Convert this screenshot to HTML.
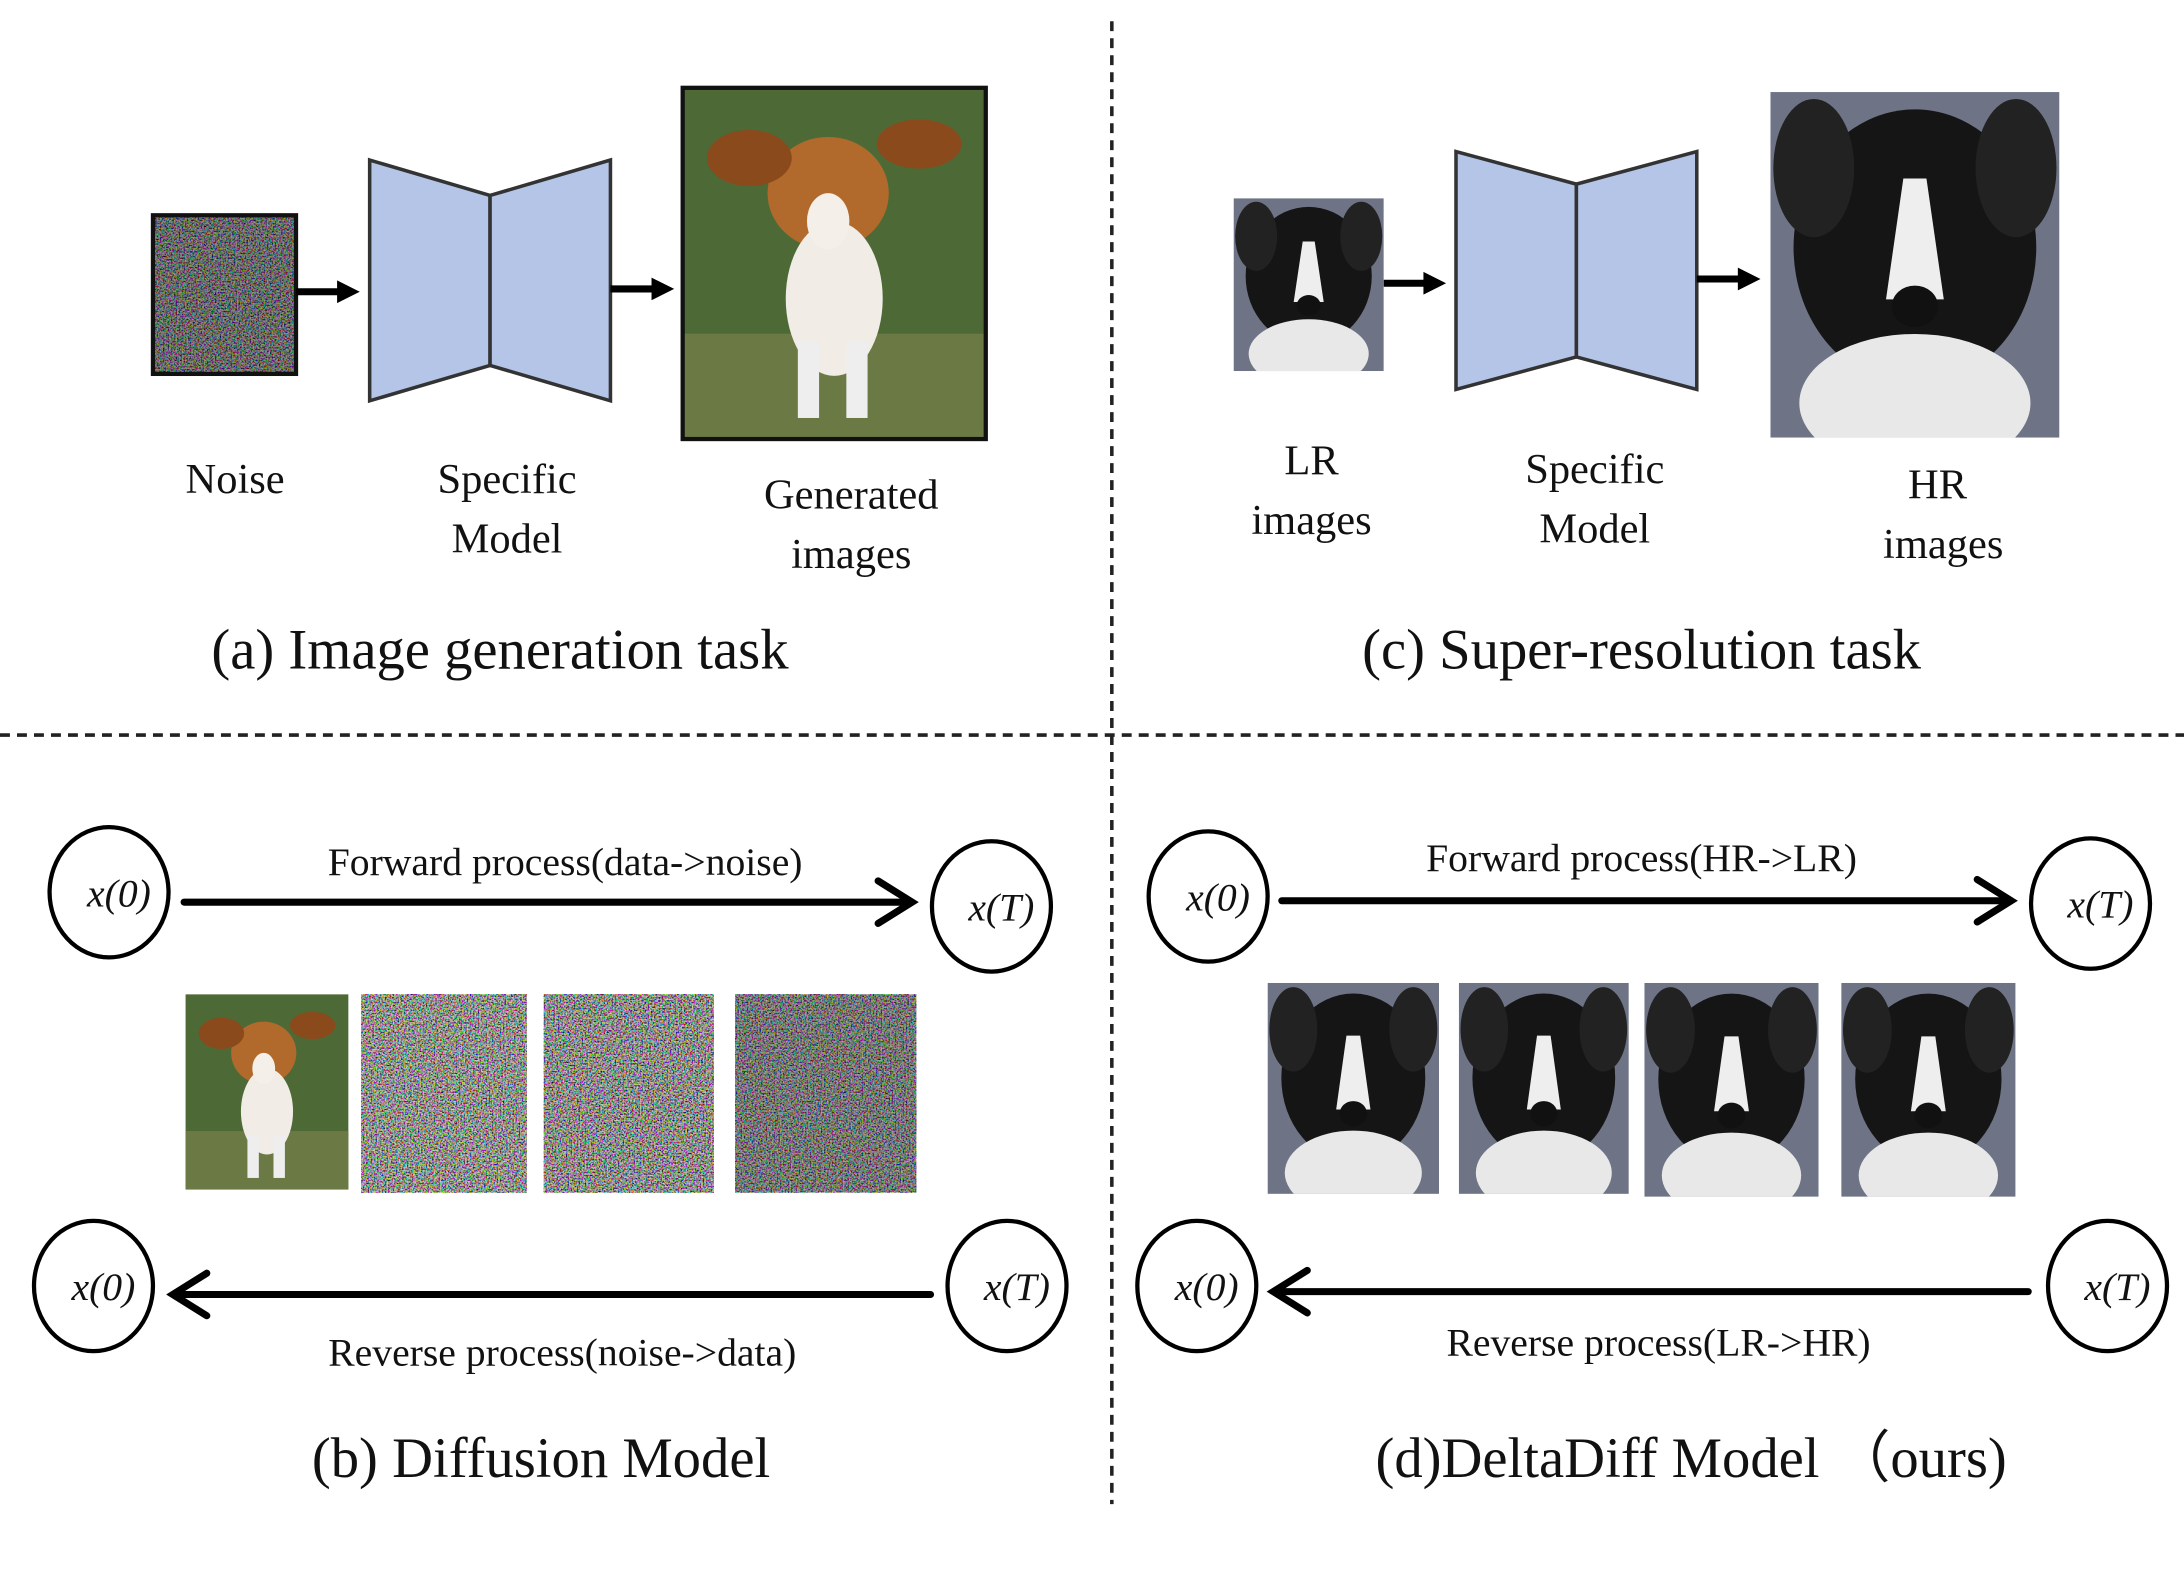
<!DOCTYPE html>
<html><head><meta charset="utf-8"><style>
html,body{margin:0;padding:0;background:#fff;}
svg{display:block;}
text{font-family:"Liberation Serif",serif;fill:#111;}
</style></head><body>
<svg width="2184" height="1580" viewBox="0 0 1542 1115.6" preserveAspectRatio="none" xmlns="http://www.w3.org/2000/svg">
<defs>
<filter id="nz" x="0" y="0" width="100%" height="100%">
<feTurbulence type="fractalNoise" baseFrequency="0.9" numOctaves="2" seed="3"/>
<feColorMatrix type="matrix" values="3.5 0 0 0 -1.3  0 3.5 0 0 -1.3  0 0 3.5 0 -1.3  0 0 0 0 1"/>
</filter>
<g id="dog">
<rect width="100" height="100" fill="#4d6a36"/>
<rect y="70" width="100" height="30" fill="#6b7a45"/>
<ellipse cx="48" cy="30" rx="20" ry="16" fill="#b26a2c"/>
<ellipse cx="22" cy="20" rx="14" ry="8" fill="#8a4a1c"/>
<ellipse cx="78" cy="16" rx="14" ry="7" fill="#8a4a1c"/>
<ellipse cx="50" cy="60" rx="16" ry="22" fill="#f1ece6"/>
<ellipse cx="48" cy="38" rx="7" ry="8" fill="#f4efe8"/>
<rect x="38" y="72" width="7" height="22" fill="#eee"/>
<rect x="54" y="72" width="7" height="22" fill="#eee"/>
</g>
<g id="collie">
<rect width="100" height="100" fill="#6e7486"/>
<ellipse cx="50" cy="45" rx="42" ry="40" fill="#151515"/>
<ellipse cx="15" cy="22" rx="14" ry="20" fill="#222"/>
<ellipse cx="85" cy="22" rx="14" ry="20" fill="#222"/>
<path d="M46,25 L54,25 L60,60 L40,60 Z" fill="#eee"/>
<ellipse cx="50" cy="90" rx="40" ry="20" fill="#e8e8e8"/>
<ellipse cx="50" cy="62" rx="8" ry="6" fill="#111"/>
</g>
</defs>

<line x1="785" y1="15" x2="785" y2="1062" stroke="#222" stroke-width="2.5" stroke-dasharray="7,5"/>
<line x1="0" y1="519" x2="1542" y2="519" stroke="#222" stroke-width="2.5" stroke-dasharray="7,5"/>

<!-- (a) -->
<rect x="108" y="152" width="101" height="112" fill="#222"/>
<rect x="108" y="152" width="101" height="112" fill="#555" filter="url(#nz)" opacity="0.55"/>
<rect x="108" y="152" width="101" height="112" fill="none" stroke="#111" stroke-width="3"/>
<line x1="209" y1="206" x2="240" y2="206" stroke="#000" stroke-width="5"/>
<path d="M238,198 L254,206 L238,214 Z" fill="#000"/>
<path d="M261,113 L346,138 L346,258 L261,283 Z" fill="#b4c5e8" stroke="#333" stroke-width="2.5"/>
<path d="M346,138 L431,113 L431,283 L346,258 Z" fill="#b4c5e8" stroke="#333" stroke-width="2.5"/>
<line x1="431" y1="204" x2="462" y2="204" stroke="#000" stroke-width="5"/>
<path d="M460,196 L476,204 L460,212 Z" fill="#000"/>
<svg x="482" y="62" width="214" height="248" viewBox="0 0 100 100" preserveAspectRatio="none"><use href="#dog"/></svg>
<rect x="482" y="62" width="214" height="248" fill="none" stroke="#111" stroke-width="3"/>
<g font-size="30" text-anchor="middle">
<text x="166" y="348">Noise</text>
<text x="358" y="348">Specific</text><text x="358" y="390">Model</text>
<text x="601" y="359">Generated</text><text x="601" y="401">images</text>
</g>
<text x="353" y="472" font-size="40" text-anchor="middle">(a) Image generation task</text>

<!-- (c) -->
<svg x="871" y="140" width="106" height="122" viewBox="0 0 100 100" preserveAspectRatio="none"><use href="#collie"/></svg>
<line x1="977" y1="200" x2="1007" y2="200" stroke="#000" stroke-width="5"/>
<path d="M1005,192 L1021,200 L1005,208 Z" fill="#000"/>
<path d="M1028,107 L1113,130 L1113,252 L1028,275 Z" fill="#b4c5e8" stroke="#333" stroke-width="2.5"/>
<path d="M1113,130 L1198,107 L1198,275 L1113,252 Z" fill="#b4c5e8" stroke="#333" stroke-width="2.5"/>
<line x1="1198" y1="197" x2="1229" y2="197" stroke="#000" stroke-width="5"/>
<path d="M1227,189 L1243,197 L1227,205 Z" fill="#000"/>
<svg x="1250" y="65" width="204" height="244" viewBox="0 0 100 100" preserveAspectRatio="none"><use href="#collie"/></svg>
<g font-size="30" text-anchor="middle">
<text x="926" y="335">LR</text><text x="926" y="377">images</text>
<text x="1126" y="341">Specific</text><text x="1126" y="383">Model</text>
<text x="1368" y="352">HR</text><text x="1372" y="394">images</text>
</g>
<text x="1159" y="472" font-size="40" text-anchor="middle">(c) Super-resolution task</text>

<!-- circles -->
<g fill="none" stroke="#000" stroke-width="3">
<ellipse cx="77" cy="630" rx="42" ry="46"/>
<ellipse cx="700" cy="640" rx="42" ry="46"/>
<ellipse cx="66" cy="908" rx="42" ry="46"/>
<ellipse cx="711" cy="908" rx="42" ry="46"/>
<ellipse cx="853" cy="633" rx="42" ry="46"/>
<ellipse cx="1476" cy="638" rx="42" ry="46"/>
<ellipse cx="845" cy="908" rx="42" ry="46"/>
<ellipse cx="1488" cy="908" rx="42" ry="46"/>
</g>
<g font-size="28" font-style="italic" text-anchor="middle">
<text x="84" y="640">x(0)</text><text x="707" y="650">x(T)</text>
<text x="73" y="918">x(0)</text><text x="718" y="918">x(T)</text>
<text x="860" y="643">x(0)</text><text x="1483" y="648">x(T)</text>
<text x="852" y="918">x(0)</text><text x="1495" y="918">x(T)</text>
</g>
<g stroke="#000" stroke-width="5" fill="none" stroke-linecap="round">
<line x1="130" y1="637" x2="642" y2="637"/><path d="M620,622 L644,637 L620,652"/>
<line x1="657" y1="914" x2="124" y2="914"/><path d="M146,899 L122,914 L146,929"/>
<line x1="905" y1="636" x2="1418" y2="636"/><path d="M1396,621 L1420,636 L1396,651"/>
<line x1="1432" y1="912" x2="901" y2="912"/><path d="M923,897 L899,912 L923,927"/>
</g>
<g font-size="28" text-anchor="middle">
<text x="399" y="618">Forward process(data-&gt;noise)</text>
<text x="397" y="964">Reverse process(noise-&gt;data)</text>
<text x="1159" y="615">Forward process(HR-&gt;LR)</text>
<text x="1171" y="957">Reverse process(LR-&gt;HR)</text>
</g>
<svg x="131" y="702" width="115" height="138" viewBox="0 0 100 100" preserveAspectRatio="none"><use href="#dog"/></svg>
<rect x="255" y="702" width="117" height="140" fill="#5a5a4a"/>
<rect x="255" y="702" width="117" height="140" fill="#888" filter="url(#nz)" opacity="0.75"/>
<rect x="384" y="702" width="120" height="140" fill="#4a4a44"/>
<rect x="384" y="702" width="120" height="140" fill="#777" filter="url(#nz)" opacity="0.75"/>
<rect x="519" y="702" width="128" height="140" fill="#333"/>
<rect x="519" y="702" width="128" height="140" fill="#555" filter="url(#nz)" opacity="0.6"/>
<text x="382" y="1043" font-size="40" text-anchor="middle">(b) Diffusion Model</text>

<!-- (d) -->
<svg x="895" y="694" width="121" height="149" viewBox="0 0 100 100" preserveAspectRatio="none"><use href="#collie"/></svg>
<svg x="1030" y="694" width="120" height="149" viewBox="0 0 100 100" preserveAspectRatio="none"><use href="#collie"/></svg>
<svg x="1161" y="694" width="123" height="151" viewBox="0 0 100 100" preserveAspectRatio="none"><use href="#collie"/></svg>
<svg x="1300" y="694" width="123" height="151" viewBox="0 0 100 100" preserveAspectRatio="none"><use href="#collie"/></svg>
<text x="1194" y="1043" font-size="40" text-anchor="middle">(d)DeltaDiff Model （ours)</text>
</svg>
</body></html>
